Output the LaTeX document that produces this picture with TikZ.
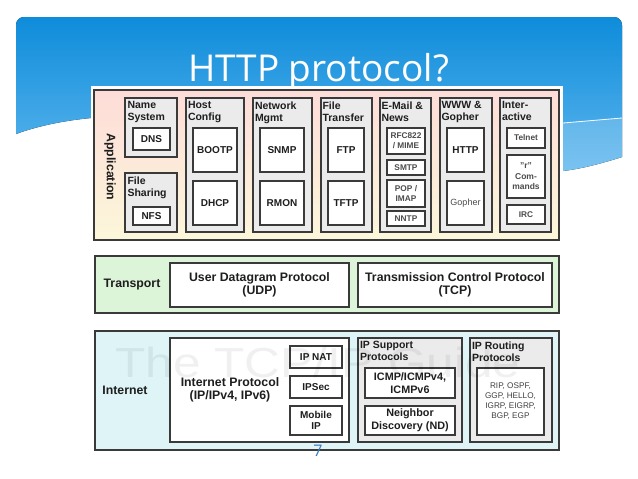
\documentclass[tikz,border=0pt]{standalone}
\usepackage{fontspec}
\setmainfont{Liberation Sans}
\newfontfamily\titlefont{Open Sans}
\definecolor{bannertop}{HTML}{0E8CDA}
\definecolor{bannerbot}{HTML}{5DB6EE}
\definecolor{apptop}{HTML}{FDDCD8}
\definecolor{appbot}{HTML}{FCF7DA}
\definecolor{transfill}{HTML}{DCF5D9}
\definecolor{netfill}{HTML}{DEF4F7}
\definecolor{grpfill}{HTML}{EBEBEB}
\definecolor{edge}{HTML}{3A3A3A}
\definecolor{ink}{HTML}{1E1E1E}
\definecolor{pagenum}{HTML}{3C7CC0}
\newcommand\myfs[2]{\fontsize{#1}{#2}\selectfont}
\tikzset{
 layerbox/.style={draw=edge, line width=1.3pt, inner sep=0pt},
 grpbox/.style={draw=edge, fill=grpfill, line width=1.4pt, inner sep=0pt},
 wbox/.style={draw=edge, fill=white, line width=1.4pt, inner sep=0pt, align=center, text=ink, font=\bfseries\myfs{10}{12}},
 smallbox/.style={wbox, font=\bfseries\myfs{8.3}{10}, text=black!70},
 hdr/.style={anchor=north west, inner sep=0pt, align=left, text=ink, font=\bfseries\myfs{10.5}{12}},
 laylabel/.style={inner sep=0pt, text=ink, font=\bfseries\myfs{12.3}{14}},
 bigtxt/.style={inner sep=0pt, align=center, text=ink, font=\bfseries\myfs{12.3}{13.5}},
}
\begin{document}
\begin{tikzpicture}[x=1pt,y=-1pt]
\useasboundingbox (0,0) rectangle (638,479);
\fill[white] (0,0) rectangle (638,479);
% banner
\fill[top color=bannertop, bottom color=bannerbot] (16,60) [rounded corners=8pt] -- (16,17) -- (622,17) -- (622,60) [sharp corners] -- (622,157) .. controls (600,164) and (580,169) .. (563,171) -- (91,118) .. controls (60,121) and (35,127) .. (16,134) -- cycle;
\fill[white, opacity=0.18] (563,123) -- (622,118) -- (622,157) .. controls (600,164) and (580,169) .. (563,171) -- cycle;
\draw[white, line width=0.8pt] (563,123) -- (622,118);
% picture background
\fill[white] (91,86) rectangle (563,446);
\node[text=white, font=\titlefont\myfs{37}{37}, anchor=base] (title) at (318.5,81) {HTTP protocol?};

% ---------- Application layer
\node[layerbox, top color=apptop, bottom color=appbot, minimum width=465pt, minimum height=150pt] (app) at (326.5,165) {};
\node[laylabel, rotate=-90] (appl) at (110,167) {Application};

\node[grpbox, minimum width=52pt, minimum height=59pt] (ns) at (151,127.5) {};
\node[hdr] (nsl) at ([xshift=3pt,yshift=-4pt]ns.north west) {Name\\System};
\node[wbox, minimum width=37pt, minimum height=22pt] (dns) at (151.5,139) {DNS};

\node[grpbox, minimum width=52pt, minimum height=59pt] (fs) at (151,202.5) {};
\node[hdr] (fsl) at ([xshift=3pt,yshift=-4pt]fs.north west) {File\\Sharing};
\node[wbox, minimum width=37pt, minimum height=18pt] (nfs) at (151.5,216) {NFS};

\node[grpbox, minimum width=58pt, minimum height=134pt] (hc) at (215,165) {};
\node[hdr] (hcl) at ([xshift=2.5pt,yshift=-4pt]hc.north west) {Host\\Config};
\node[wbox, minimum width=44pt, minimum height=44pt] (bootp) at (215,150) {BOOTP};
\node[wbox, minimum width=44pt, minimum height=44pt] (dhcp) at (215,203) {DHCP};

\node[grpbox, minimum width=59pt, minimum height=134pt] (nm) at (282.5,165) {};
\node[hdr] (nml) at ([xshift=2.5pt,yshift=-4pt]nm.north west) {Network\\Mgmt};
\node[wbox, minimum width=44pt, minimum height=44pt] (snmp) at (282,150) {SNMP};
\node[wbox, minimum width=44pt, minimum height=44pt] (rmon) at (282,203) {RMON};

\node[grpbox, minimum width=51pt, minimum height=134pt] (ft) at (346.5,165) {};
\node[hdr] (ftl) at ([xshift=2pt,yshift=-4pt]ft.north west) {File\\Transfer};
\node[wbox, minimum width=36pt, minimum height=44pt] (ftp) at (346,150) {FTP};
\node[wbox, minimum width=36pt, minimum height=44pt] (tftp) at (346,203) {TFTP};

\node[grpbox, minimum width=51pt, minimum height=134pt] (em) at (405.5,165) {};
\node[hdr] (eml) at ([xshift=2pt,yshift=-4pt]em.north west) {E-Mail \&\\News};
\node[smallbox, minimum width=38pt, minimum height=26pt] (rfc) at (406,141) {RFC822\\/ MIME};
\node[smallbox, minimum width=38pt, minimum height=15pt] (smtp) at (406,167.5) {SMTP};
\node[smallbox, minimum width=38pt, minimum height=27pt] (pop) at (406,193.5) {POP /\\IMAP};
\node[smallbox, minimum width=38pt, minimum height=15pt] (nntp) at (406,218.5) {NNTP};

\node[grpbox, minimum width=52pt, minimum height=134pt] (www) at (466,165) {};
\node[hdr] (wwwl) at ([xshift=2pt,yshift=-4pt]www.north west) {WWW \&\\Gopher};
\node[wbox, minimum width=37pt, minimum height=44pt] (http) at (465.5,150) {HTTP};
\node[wbox, minimum width=37pt, minimum height=44pt, font=\myfs{9}{10}, text=black!70] (gopher) at (465.5,203) {Gopher};

\node[grpbox, minimum width=51pt, minimum height=134pt] (ia) at (525.5,165) {};
\node[hdr] (ial) at ([xshift=2.5pt,yshift=-4pt]ia.north west) {Inter-\\active};
\node[smallbox, minimum width=38pt, minimum height=20pt] (telnet) at (526,138) {Telnet};
\node[smallbox, minimum width=38pt, minimum height=43pt, font=\bfseries\myfs{8.5}{10.5}] (rcmd) at (526,176.5) {"r"\\Com-\\mands};
\node[smallbox, minimum width=38pt, minimum height=19pt] (irc) at (526,214.5) {IRC};

% ---------- Transport layer
\node[layerbox, fill=transfill, minimum width=464pt, minimum height=57pt] (tr) at (327,284.5) {};
\node[laylabel] (trl) at (132,285) {Transport};
\node[wbox, minimum width=179pt, minimum height=44pt, font=\bfseries\myfs{12.3}{13.5}] (udp) at (259.5,285) {User Datagram Protocol\\(UDP)};
\node[wbox, minimum width=194pt, minimum height=44pt, font=\bfseries\myfs{12.3}{13.5}] (tcp) at (455,285) {Transmission Control Protocol\\(TCP)};

% ---------- Internet layer
\node[layerbox, fill=netfill, minimum width=464pt, minimum height=119pt] (inet) at (327,390.5) {};
\node[laylabel] (inetl) at (125,390) {Internet};
\node[wbox, minimum width=179pt, minimum height=104pt] (ip) at (259.5,390) {};
\node[bigtxt] (ipt) at (230,390) {Internet Protocol\\(IP/IPv4, IPv6)};
\node[wbox, minimum width=52pt, minimum height=22pt] (nat) at (316,357) {IP NAT};
\node[wbox, minimum width=52pt, minimum height=22pt] (ipsec) at (316,387) {IPSec};
\node[wbox, minimum width=52pt, minimum height=29pt, font=\bfseries\myfs{10}{11.5}] (mip) at (316,420.5) {Mobile\\IP};

\node[grpbox, minimum width=104pt, minimum height=104pt] (sup) at (410,390) {};
\node[hdr] (supl) at ([xshift=2.5pt,yshift=-4pt]sup.north west) {IP Support\\Protocols};
\node[wbox, minimum width=90pt, minimum height=30pt, font=\bfseries\myfs{10.8}{13}] (icmp) at (410,383) {ICMP/ICMPv4,\\ICMPv6};
\node[wbox, minimum width=90pt, minimum height=29pt, font=\bfseries\myfs{10.8}{13}] (nd) at (410,420.5) {Neighbor\\Discovery (ND)};

\node[grpbox, minimum width=82pt, minimum height=104pt] (rt) at (511,390) {};
\node[hdr] (rtl) at ([xshift=2.5pt,yshift=-4pt]rt.north west) {IP Routing\\Protocols};
\node[wbox, minimum width=67pt, minimum height=67pt, font=\myfs{8.2}{10}, text=black!75] (rtp) at (510.5,401.5) {RIP, OSPF,\\GGP, HELLO,\\IGRP, EIGRP,\\BGP, EGP};

% watermark
\node[opacity=0.06, text=black, inner sep=0pt, font=\myfs{42}{42}, xscale=1.18, transform shape] (wm) at (318,362) {The TCP/IP Guide};

% page number
\node[text=pagenum, font=\titlefont\myfs{16}{16}] (pg) at (318,451) {7};
\end{tikzpicture}
\end{document}
